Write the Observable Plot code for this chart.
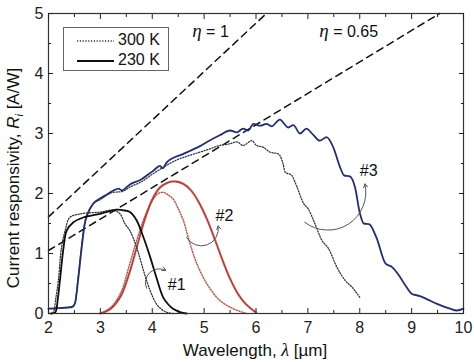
<!DOCTYPE html>
<html><head><meta charset="utf-8">
<script src="https://cdn.jsdelivr.net/npm/d3@7"></script>
<script src="https://cdn.jsdelivr.net/npm/@observablehq/plot@0.6"></script>
<style>
body{margin:0;background:#fff;}
#chart svg{font-family:"Liberation Sans",Arial,sans-serif;}
</style>
</head><body><div id="chart"></div>
<script>
// ---- data ----
const xTicks = [2,3,4,5,6,7,8,9,10];
const xMinor = [2.5,3.5,4.5,5.5,6.5,7.5,8.5,9.5];
const yTicks = [0,1,2,3,4,5];
const yMinor = [0.5,1.5,2.5,3.5,4.5];

// theoretical limits (eta = 1 and eta = 0.65)
const eta1Line = [[2,1.61],[6.2,5.0]];
const eta065Line = [[2,1.05],[9.54,5.0]];

// detector #1 (black)
const d1_230 = [[2.05,0],[2.13,0.02],[2.18,0.25],[2.22,0.55],[2.29,1.1],[2.35,1.38],[2.48,1.52],[2.67,1.6],[2.99,1.66],[3.2,1.71],[3.31,1.73],[3.45,1.72],[3.57,1.69],[3.70,1.55],[3.83,1.27],[3.96,0.94],[4.08,0.6],[4.21,0.27],[4.31,0.15],[4.40,0.08],[4.55,0.02],[4.66,0]];
const d1_300 = [[2.03,0],[2.09,0.02],[2.14,0.25],[2.19,0.55],[2.25,1.1],[2.32,1.38],[2.41,1.6],[2.61,1.66],[2.99,1.69],[3.25,1.72],[3.38,1.66],[3.47,1.5],[3.57,1.38],[3.70,1.1],[3.83,0.72],[3.96,0.38],[4.08,0.16],[4.18,0.07],[4.28,0.02],[4.4,0]];
// detector #2 (red)
const d2_230 = [[3.0,0],[3.2,0.08],[3.4,0.3],[3.55,0.65],[3.7,1.1],[3.85,1.55],[4.0,1.9],[4.15,2.1],[4.3,2.18],[4.45,2.2],[4.6,2.16],[4.75,2.05],[4.9,1.85],[5.05,1.58],[5.2,1.25],[5.35,0.9],[5.5,0.58],[5.65,0.33],[5.8,0.16],[5.95,0.05],[6.0,0.02]];
const d2_300 = [[3.0,0],[3.2,0.1],[3.4,0.36],[3.55,0.78],[3.7,1.22],[3.85,1.6],[4.0,1.88],[4.1,1.99],[4.21,2.02],[4.3,1.98],[4.40,1.91],[4.5,1.75],[4.6,1.55],[4.73,1.16],[4.86,0.83],[5.05,0.5],[5.3,0.22],[5.56,0.08],[5.82,0]];
// detector #3 (blue)
const d3_230 = [[2.0,0.08],[2.2,0.09],[2.45,0.11],[2.51,0.17],[2.57,0.55],[2.64,1.1],[2.70,1.5],[2.77,1.69],[2.86,1.83],[3.0,1.92],[3.12,1.98],[3.25,2.05],[3.35,2.08],[3.42,2.05],[3.5,2.1],[3.57,2.15],[3.76,2.22],[4.02,2.38],[4.15,2.46],[4.2,2.42],[4.28,2.52],[4.6,2.66],[4.92,2.79],[5.1,2.88],[5.3,2.97],[5.5,3.05],[5.63,3.02],[5.75,3.08],[5.85,3.05],[5.95,3.16],[6.08,3.13],[6.2,3.16],[6.30,3.12],[6.46,3.23],[6.62,3.1],[6.72,3.14],[6.85,3.0],[6.97,3.08],[7.1,2.98],[7.23,2.88],[7.36,2.94],[7.49,2.77],[7.62,2.44],[7.7,2.3],[7.8,2.29],[7.91,2.1],[8.0,1.68],[8.08,1.5],[8.18,1.49],[8.32,1.27],[8.5,0.83],[8.63,0.77],[8.76,0.63],[8.9,0.44],[9.0,0.33],[9.16,0.29],[9.29,0.24],[9.49,0.16],[9.74,0.08],[9.87,0.05],[10,0.08]];
const d3_300 = [[2.0,0.08],[2.45,0.1],[2.51,0.17],[2.57,0.6],[2.64,1.15],[2.70,1.52],[2.77,1.7],[2.86,1.82],[3.0,1.9],[3.25,2.02],[3.4,2.03],[3.6,2.12],[3.8,2.2],[4.0,2.32],[4.2,2.43],[4.45,2.55],[4.7,2.63],[4.92,2.69],[5.1,2.74],[5.3,2.8],[5.5,2.83],[5.63,2.86],[5.75,2.8],[5.92,2.88],[6.01,2.8],[6.14,2.77],[6.27,2.69],[6.43,2.66],[6.52,2.5],[6.56,2.36],[6.69,2.3],[6.78,2.13],[6.92,1.83],[7.01,1.74],[7.11,1.55],[7.27,1.22],[7.4,1.08],[7.56,0.77],[7.72,0.55],[7.85,0.44],[8.0,0.27]];

// annotation arrows and labels
const arrows = [
  {x1:3.89,y1:0.42,x2:4.26,y2:0.72},
  {x1:4.66,y1:1.27,x2:5.27,y2:1.46},
  {x1:6.94,y1:1.52,x2:8.10,y2:2.16}
];
const arrowBends = [70, -80, -70];
const arrowLabels = [
  {x:4.3,y:0.47,t:"#1"},
  {x:5.22,y:1.63,t:"#2"},
  {x:8.0,y:2.38,t:"#3"}
];
const etaLabels = [
  {x:4.78,y:4.67,t:"1"},
  {x:7.23,y:4.67,t:"0.65"}
];

const W = 474, H = 362;
const mL = 48, mR = 11, mT = 13, mB = 49;
const solidW = 1.8, dotW = 1.3, dots = "1.2,1.6";

const plot = Plot.plot({
  width: W, height: H,
  marginLeft: mL, marginRight: mR, marginTop: mT, marginBottom: mB,
  style: {fontSize: "16px", fontFamily: "Liberation Sans, Arial, sans-serif", color: "#222", background: "#fff"},
  x: {domain: [2,10]},
  y: {domain: [0,5]},
  marks: [
    // faint halo under red curves
    Plot.line(d2_230, {x: d=>d[0], y: d=>d[1], stroke: "#f4c4c0", strokeWidth: 3.5, strokeOpacity: 0.45, curve: "catmull-rom"}),
    Plot.line(d2_300, {x: d=>d[0], y: d=>d[1], stroke: "#f4d0cc", strokeWidth: 3, strokeOpacity: 0.35, curve: "catmull-rom"}),
    // dashed theory lines
    Plot.line(eta1Line, {x: d=>d[0], y: d=>d[1], stroke: "#111", strokeWidth: 1.5, strokeDasharray: "7,5"}),
    Plot.line(eta065Line, {x: d=>d[0], y: d=>d[1], stroke: "#111", strokeWidth: 1.5, strokeDasharray: "7,5"}),
    // curves
    Plot.line(d3_300, {x: d=>d[0], y: d=>d[1], stroke: "#34384f", strokeWidth: dotW, strokeDasharray: dots, curve: "monotone-x"}),
    Plot.line(d3_230, {x: d=>d[0], y: d=>d[1], stroke: "#252e68", strokeWidth: solidW, curve: "monotone-x"}),
    Plot.line(d2_300, {x: d=>d[0], y: d=>d[1], stroke: "#9a5a55", strokeWidth: dotW, strokeDasharray: dots, curve: "catmull-rom"}),
    Plot.line(d2_230, {x: d=>d[0], y: d=>d[1], stroke: "#a9443f", strokeWidth: solidW, curve: "catmull-rom"}),
    Plot.line(d1_300, {x: d=>d[0], y: d=>d[1], stroke: "#333", strokeWidth: dotW, strokeDasharray: dots, curve: "catmull-rom"}),
    Plot.line(d1_230, {x: d=>d[0], y: d=>d[1], stroke: "#0d0d0d", strokeWidth: solidW, curve: "catmull-rom"}),
    // arrows
    ...arrows.map((a, i) => Plot.arrow([a], {x1:"x1", y1:"y1", x2:"x2", y2:"y2", bend: arrowBends[i], stroke: "#555", strokeWidth: 1, headLength: 6})),
    Plot.text(arrowLabels, {x:"x", y:"y", text:"t", fontSize: 16, fill: "#111", textAnchor: "start"}),
    // frame & axes
    Plot.frame({stroke: "#333", strokeWidth: 1.2}),
    Plot.axisX(xTicks, {anchor: "bottom", tickSize: -5, tickPadding: 13, label: null, fontSize: 16, tickFormat: d3.format("d")}),
    Plot.axisX(xMinor, {anchor: "bottom", tickSize: -3, tickFormat: () => "", label: null}),
    Plot.axisX(xTicks, {anchor: "top", tickSize: -5, tickFormat: () => "", label: null}),
    Plot.axisX(xMinor, {anchor: "top", tickSize: -3, tickFormat: () => "", label: null}),
    Plot.axisY(yTicks, {anchor: "left", tickSize: -5, tickPadding: 10, label: null, fontSize: 16, tickFormat: d3.format("d")}),
    Plot.axisY(yMinor, {anchor: "left", tickSize: -3, tickFormat: () => "", label: null}),
    Plot.axisY(yTicks, {anchor: "right", tickSize: -5, tickFormat: () => "", label: null}),
    Plot.axisY(yMinor, {anchor: "right", tickSize: -3, tickFormat: () => "", label: null})
  ]
});

const svg = d3.select(plot);
const sx = plot.scale("x"), sy = plot.scale("y");

// eta labels
etaLabels.forEach(e => {
  const t = svg.append("text").attr("x", sx.apply(e.x)).attr("y", sy.apply(e.y))
    .attr("font-size", 16).attr("fill", "#111").attr("dominant-baseline", "middle")
    .attr("text-anchor", "start");
  t.append("tspan").attr("font-style", "italic").attr("font-family", "Liberation Serif, serif").attr("font-size", 19).text("η");
  t.append("tspan").text(" = " + e.t);
});

// legend
const lg = svg.append("g").attr("text-anchor", "start");
lg.append("rect").attr("x", 63.5).attr("y", 27.5).attr("width", 105).attr("height", 43)
  .attr("fill", "#fff").attr("stroke", "#666").attr("stroke-width", 1);
lg.append("line").attr("x1", 77).attr("x2", 114).attr("y1", 41).attr("y2", 41)
  .attr("stroke", "#333").attr("stroke-width", dotW).attr("stroke-dasharray", dots);
lg.append("line").attr("x1", 77).attr("x2", 114).attr("y1", 61).attr("y2", 61)
  .attr("stroke", "#0d0d0d").attr("stroke-width", solidW);
lg.append("text").attr("x", 118).attr("y", 41).attr("dominant-baseline", "middle").attr("font-size", 16).attr("fill", "#111").text("300 K");
lg.append("text").attr("x", 118).attr("y", 61).attr("dominant-baseline", "middle").attr("font-size", 16).attr("fill", "#111").text("230 K");

// axis titles
const xl = svg.append("text").attr("x", 255).attr("y", 356).attr("text-anchor", "middle")
  .attr("font-size", 17).attr("fill", "#111");
xl.append("tspan").text("Wavelength, ");
xl.append("tspan").attr("font-style", "italic").attr("font-family", "Liberation Serif, serif").attr("font-size", 18).text("λ");
xl.append("tspan").text(" [µm]");

const yl = svg.append("text").attr("transform", "translate(19,178) rotate(-90)").attr("text-anchor", "middle")
  .attr("font-size", 17).attr("fill", "#111");
yl.append("tspan").text("Current responsivity, ");
yl.append("tspan").attr("font-style", "italic").text("R");
yl.append("tspan").attr("font-style", "italic").attr("font-size", 11).attr("dy", 4).text("i");
yl.append("tspan").attr("dy", -4).text(" [A/W]");

document.getElementById("chart").appendChild(plot);
</script>
</body></html>
